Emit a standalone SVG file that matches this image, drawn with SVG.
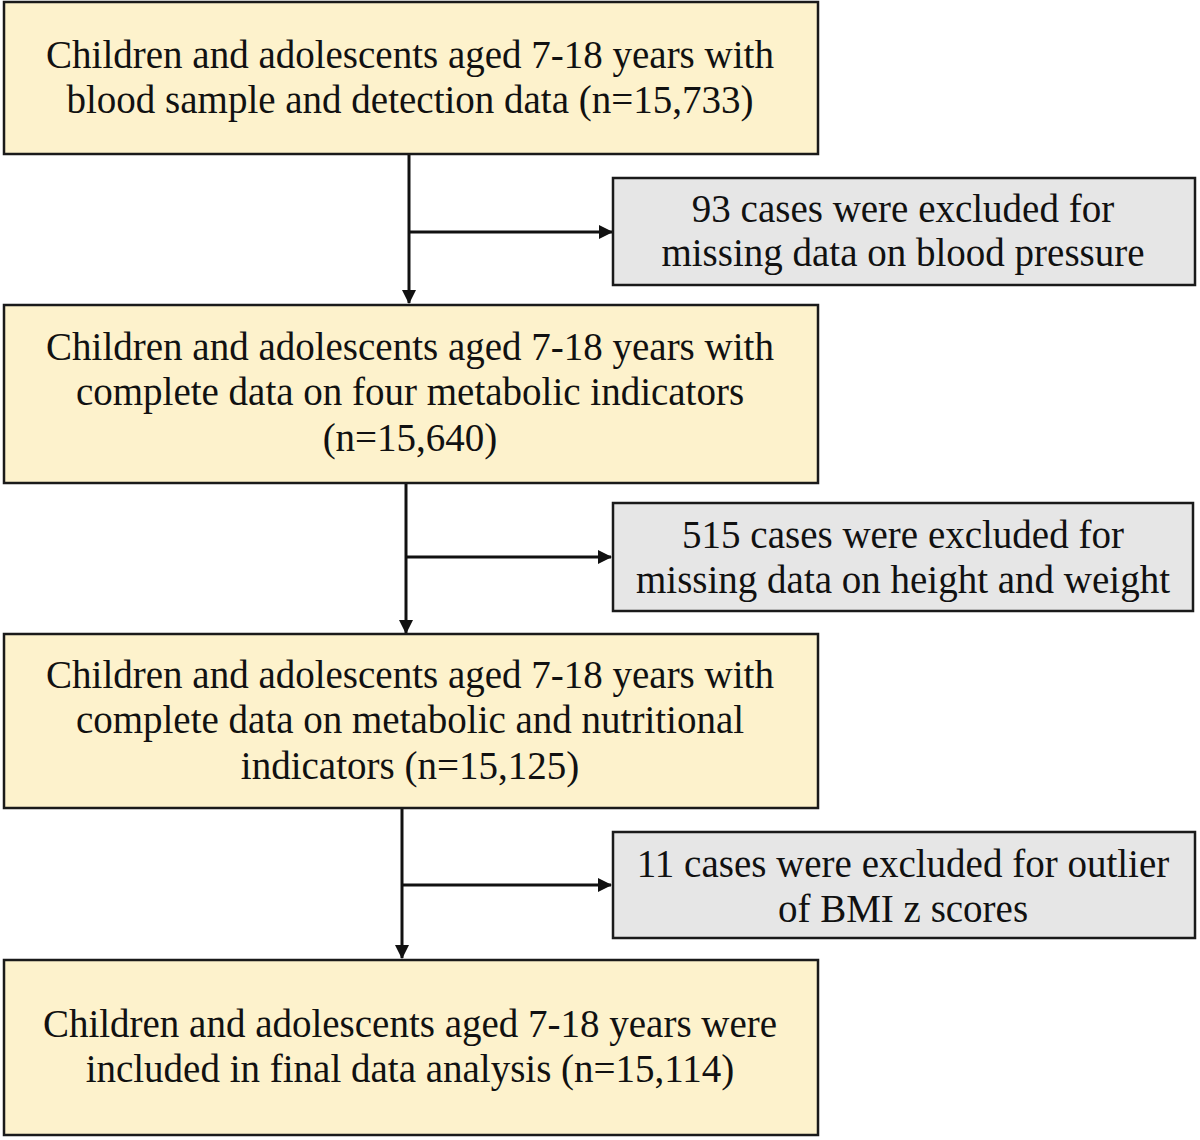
<svg xmlns="http://www.w3.org/2000/svg" width="1200" height="1140" viewBox="0 0 1200 1140">
<defs>
<style>
.main{fill:#fdf2cc;stroke:#1a1a1a;stroke-width:2.5}
.excl{fill:#e6e6e6;stroke:#1a1a1a;stroke-width:2.5}
.t{font-family:"Liberation Serif","Times New Roman",serif;font-size:39px;fill:#111;text-anchor:middle}
.c{stroke:#111;stroke-width:3;fill:none}
</style>
<marker id="ahb" markerWidth="14" markerHeight="14" refX="13" refY="7" orient="auto" markerUnits="userSpaceOnUse" viewBox="0 0 14 14">
<path d="M0,0 L14,7 L0,14 Z" fill="#111"/>
</marker>
</defs>
<rect width="1200" height="1140" fill="#fff"/>
<g id="connectors">
<line class="c" x1="409" y1="155" x2="409" y2="303" marker-end="url(#ahb)"/>
<line class="c" x1="409" y1="232" x2="612" y2="232" marker-end="url(#ahb)"/>
<line class="c" x1="406" y1="484" x2="406" y2="633" marker-end="url(#ahb)"/>
<line class="c" x1="406" y1="557" x2="611" y2="557" marker-end="url(#ahb)"/>
<line class="c" x1="402" y1="809" x2="402" y2="958" marker-end="url(#ahb)"/>
<line class="c" x1="402" y1="885" x2="611" y2="885" marker-end="url(#ahb)"/>
</g>
<g id="node1">
<rect class="main" x="4" y="2" width="814" height="152"/>
<text class="t" x="410" y="68">Children and adolescents aged 7-18 years with</text>
<text class="t" x="410" y="113">blood sample and detection data (n=15,733)</text>
</g>
<g id="excl1">
<rect class="excl" x="613" y="178" width="582" height="107"/>
<text class="t" x="903" y="222">93 cases were excluded for</text>
<text class="t" x="903" y="266">missing data on blood pressure</text>
</g>
<g id="node2">
<rect class="main" x="4" y="305" width="814" height="178"/>
<text class="t" x="410" y="360">Children and adolescents aged 7-18 years with</text>
<text class="t" x="410" y="405">complete data on four metabolic indicators</text>
<text class="t" x="410" y="451">(n=15,640)</text>
</g>
<g id="excl2">
<rect class="excl" x="613" y="503" width="580" height="108"/>
<text class="t" x="903" y="548">515 cases were excluded for</text>
<text class="t" x="903" y="593">missing data on height and weight</text>
</g>
<g id="node3">
<rect class="main" x="4" y="634" width="814" height="174"/>
<text class="t" x="410" y="688">Children and adolescents aged 7-18 years with</text>
<text class="t" x="410" y="733">complete data on metabolic and nutritional</text>
<text class="t" x="410" y="779">indicators (n=15,125)</text>
</g>
<g id="excl3">
<rect class="excl" x="613" y="832" width="582" height="106"/>
<text class="t" x="903" y="877">11 cases were excluded for outlier</text>
<text class="t" x="903" y="922">of BMI z scores</text>
</g>
<g id="node4">
<rect class="main" x="4" y="960" width="814" height="175"/>
<text class="t" x="410" y="1037">Children and adolescents aged 7-18 years were</text>
<text class="t" x="410" y="1082">included in final data analysis (n=15,114)</text>
</g>
</svg>
